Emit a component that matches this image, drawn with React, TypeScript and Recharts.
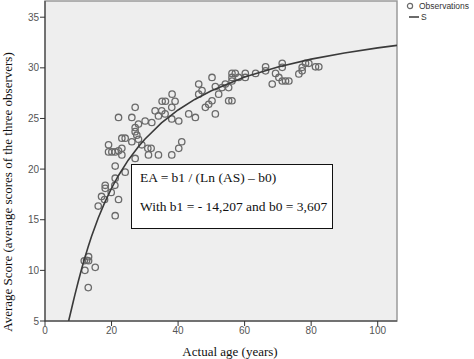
import React from "react";
import { ScatterChart, Scatter, XAxis, YAxis, ReferenceArea } from "recharts";

// observations (actual age vs average score)
const obsAge = [
  11.8, 12.5, 13.1, 13.1, 12.0, 15.1, 13.0,
  21.1, 16.0, 17.0, 17.9, 19.9, 22.1, 18.1, 18.1, 21.0, 21.1, 24.1, 21.1,
  19.1, 19.1, 20.1, 21.1, 22.1, 23.1, 23.1, 27.1, 31.1, 34.1, 38.1, 30.9, 31.9,
  29.1, 26.1, 28.1, 23.1, 24.1, 41.1, 40.2,
  27.1, 27.1, 27.6, 28.1, 30.1, 32.1, 22.1, 26.1, 33.1, 35.1, 34.1, 36.1, 38.1,
  40.2, 43.2, 45.2, 27.1, 38.1,
  35.2, 36.2, 39.1, 38.2, 46.2, 47.2, 46.2, 48.2, 49.2, 50.2, 51.2, 52.2, 50.2,
  54.2, 55.2, 55.2, 56.2, 51.2, 53.2,
  56.2, 57.2, 56.2, 58.2, 56.2, 60.2, 60.2, 63.3, 66.3, 66.3, 69.3, 70.3, 71.3,
  72.3, 73.3, 68.3, 71.3, 71.3, 76.3, 77.3, 77.3, 78.3, 79.3, 81.3, 82.3,
];
const obsScore = [
  10.95, 11.0, 11.35, 10.95, 10.0, 10.3, 8.3,
  15.4, 16.35, 17.3, 17.0, 17.7, 17.0, 18.4, 18.1, 18.4, 19.1, 19.7, 20.3,
  22.4, 21.7, 21.7, 21.7, 21.8, 22.05, 21.4, 21.05, 21.4, 21.4, 21.4, 22.05, 22.05,
  22.4, 22.7, 22.95, 23.05, 23.05, 22.7, 22.05,
  24.1, 23.7, 23.35, 24.45, 24.75, 24.6, 25.1, 25.1, 25.75, 25.75, 25.25, 25.45, 24.95,
  24.75, 25.45, 25.1, 26.1, 26.1,
  26.7, 26.7, 26.7, 27.4, 28.4, 27.75, 27.4, 26.1, 26.4, 26.75, 25.45, 27.4, 29.05,
  28.4, 28.05, 26.75, 26.75, 28.15, 28.05,
  29.45, 29.45, 29.05, 29.05, 28.7, 29.45, 29.05, 29.45, 30.1, 29.7, 29.45, 29.05, 28.7,
  28.7, 28.7, 28.4, 30.45, 30.05, 29.4, 30.05, 29.7, 30.45, 30.45, 30.1, 30.1,
];

// fitted S curve
const curveAge = [
  7.1, 7.5, 8, 8.5, 9, 10, 11, 12, 13, 14, 16, 18, 20, 22, 25, 28, 30, 35, 40,
  45, 50, 60, 70, 80, 90, 100, 105.8,
];
const curveScore = [
  5.0, 5.54, 6.24, 6.93, 7.6, 8.9, 10.13, 11.28, 12.36, 13.36, 15.17, 16.74,
  18.11, 19.32, 20.88, 22.19, 22.95, 24.56, 25.84, 26.88, 27.74, 29.09, 30.08,
  30.86, 31.47, 31.97, 32.22,
];

const xTicks = [0, 20, 40, 60, 80, 100];
const yTicks = [5, 10, 15, 20, 25, 30, 35];
const xMax = 105.8;
const yMin = 5;
const yMax = 36.6;

const equationText = "EA = b1 / (Ln (AS) – b0)";
const coefText = "With b1 = - 14,207 and b0 = 3,607";
const xTitle = "Actual age (years)";
const yTitle = "Average Score (average scores of the three observers)";

const observations = obsAge.map((x, i) => ({ x, y: obsScore[i] }));
const curve = curveAge.map((x, i) => ({ x, y: curveScore[i] }));

const serif = "'Liberation Serif', 'Times New Roman', serif";
const sans = "'Liberation Sans', Arial, sans-serif";

const OpenCircle = (props: any) => (
  <circle cx={props.cx} cy={props.cy} r={3.2} fill="none" stroke="#6a6a6a" strokeWidth={1.3} />
);

const XTitle = ({ viewBox }: any) => (
  <text
    x={viewBox.x + viewBox.width / 2 + 9}
    y={viewBox.y + 35}
    textAnchor="middle"
    fontFamily={serif}
    fontSize={13}
    fill="#111"
  >
    {xTitle}
  </text>
);

const YTitle = ({ viewBox }: any) => {
  const x = 11.5;
  const y = viewBox.y + viewBox.height / 2 + 31;
  return (
    <text
      x={x}
      y={y}
      transform={`rotate(-90, ${x}, ${y})`}
      textAnchor="middle"
      fontFamily={serif}
      fontSize={13}
      fill="#111"
    >
      {yTitle}
    </text>
  );
};

export default function App() {
  return (
    <div style={{ position: "absolute", left: 0, top: 0, width: 474, height: 359, background: "#fff" }}>
      <ScatterChart width={474} height={359} margin={{ top: 1, right: 77, bottom: 0, left: 0 }}>
        <XAxis
          type="number"
          dataKey="x"
          domain={[0, xMax]}
          ticks={xTicks}
          allowDataOverflow
          height={38}
          stroke="#333"
          tickSize={5}
          tickMargin={1}
          tick={{ fontSize: 10, fill: "#555", fontFamily: sans }}
          label={<XTitle />}
        />
        <YAxis
          type="number"
          dataKey="y"
          domain={[yMin, yMax]}
          ticks={yTicks}
          allowDataOverflow
          width={45}
          stroke="#333"
          tickSize={5}
          tickMargin={1}
          tick={{ fontSize: 10, fill: "#555", fontFamily: sans }}
          label={<YTitle />}
        />
        <ReferenceArea
          x1={0}
          x2={xMax}
          y1={yMin}
          y2={yMax}
          fill="#eeeeee"
          fillOpacity={1}
          stroke="#9a9a9a"
          strokeWidth={1.5}
        />
        <Scatter data={observations} shape={<OpenCircle />} isAnimationActive={false} />
        <Scatter
          data={curve}
          line={{ stroke: "#3a3a3a", strokeWidth: 1.6 }}
          lineType="joint"
          shape={() => <g />}
          isAnimationActive={false}
        />
      </ScatterChart>

      <div
        style={{
          position: "absolute",
          left: 131,
          top: 164,
          width: 202,
          height: 65,
          boxSizing: "border-box",
          border: "1.5px solid #111",
          background: "#fff",
          fontFamily: serif,
          fontSize: 13.5,
          color: "#111",
        }}
      >
        <div style={{ position: "absolute", left: 8, top: 5, whiteSpace: "nowrap" }}>{equationText}</div>
        <div style={{ position: "absolute", left: 8, top: 34, whiteSpace: "nowrap" }}>{coefText}</div>
      </div>

      <div style={{ position: "absolute", left: 404, top: 0, fontFamily: sans, fontSize: 8.5, color: "#333", whiteSpace: "nowrap" }}>
        <div style={{ display: "flex", alignItems: "center", height: 11 }}>
          <svg width={10} height={10} style={{ marginRight: 5 }}>
            <circle cx={6} cy={5} r={2.6} fill="none" stroke="#6a6a6a" strokeWidth={1.2} />
          </svg>
          Observations
        </div>
        <div style={{ display: "flex", alignItems: "center", height: 11 }}>
          <svg width={15} height={10} style={{ marginRight: 2 }}>
            <line x1={5} y1={5} x2={15} y2={5} stroke="#3a3a3a" strokeWidth={1.5} />
          </svg>
          S
        </div>
      </div>
    </div>
  );
}
